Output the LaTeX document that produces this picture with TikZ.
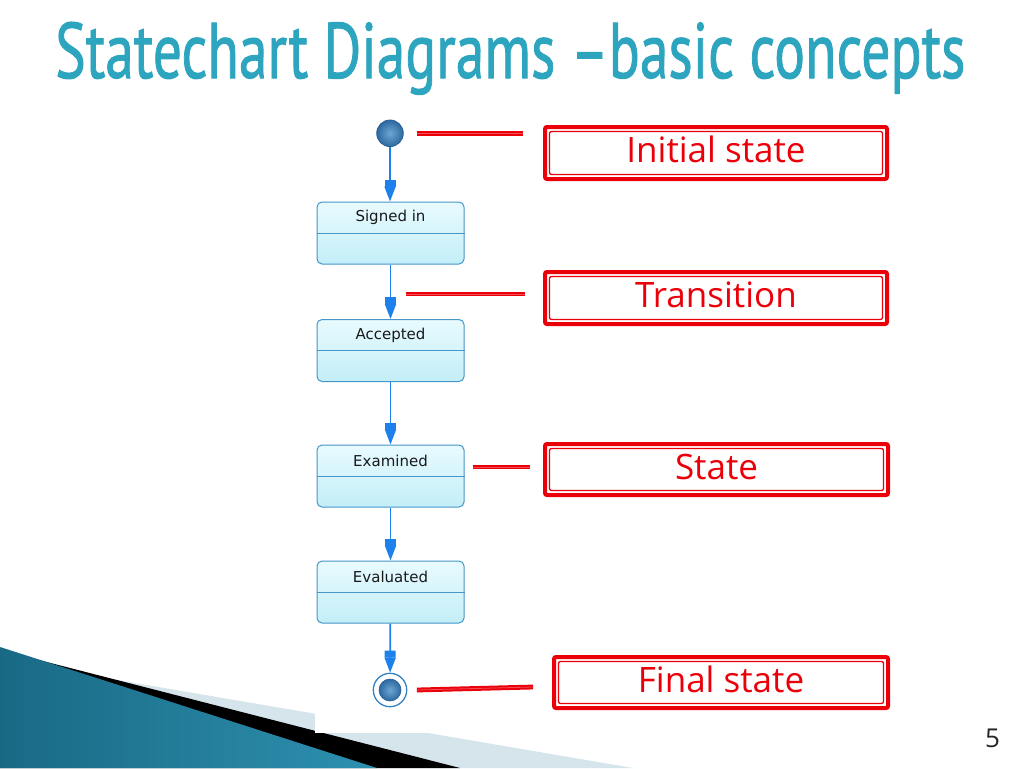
\documentclass[tikz,border=0pt]{standalone}
\usepackage{fontspec}
\setmainfont{Open Sans}
\newfontfamily\titlefont[FakeBold=1.3]{PT Sans}
\newfontfamily\lblfont{Open Sans}
\newfontfamily\statefont{DejaVu Sans}
\usetikzlibrary{arrows.meta,calc}
\definecolor{lblred}{RGB}{235,0,10}
\definecolor{arrowblue}{RGB}{30,128,235}
\definecolor{stateborder}{RGB}{70,150,200}
\definecolor{statetop}{RGB}{232,251,254}
\definecolor{statebot}{RGB}{195,238,248}
\definecolor{ballin}{RGB}{110,165,210}
\definecolor{ballout}{RGB}{45,105,160}
\definecolor{ballline}{RGB}{40,95,150}
\definecolor{ringblue}{RGB}{50,130,195}
\definecolor{decogray}{RGB}{214,228,236}
\definecolor{tealA}{RGB}{25,105,133}
\definecolor{tealB}{RGB}{90,185,215}
\definecolor{tealC}{RGB}{45,145,175}
\definecolor{titlemain}{RGB}{45,165,190}
\newcommand\mytitletext{\resizebox{910pt}{56pt}{\titlefont Statechart Diagrams –basic concepts}}
\begin{document}
\begin{tikzpicture}[x=1pt,y=-1pt,
  statebox/.style={draw=stateborder, line width=1pt, rounded corners=5pt,
    top color=statetop, bottom color=statebot,
    minimum width=147pt, minimum height=62pt, inner sep=0pt},
  stext/.style={anchor=center, yshift=-16pt, inner sep=0pt,
    font=\statefont\fontsize{15}{18}\selectfont, text=black!90},
  stateline/.style={draw=stateborder, line width=1pt},
  trans/.style={draw=arrowblue, line width=1.8pt,
    -{Rectangle[length=7pt,width=11pt,sep=0pt]Triangle[length=15pt,width=11pt,sep=0pt]}},
  redconn/.style={draw=lblred, line width=2pt, double=lblred!70!white, double distance=0.8pt},
  lbl/.style={draw=lblred, line width=4pt, rounded corners=2pt, fill=white,
    inner sep=0pt, text=lblred, font=\lblfont\fontsize{35}{40}\selectfont,
    text height=25pt, text depth=6pt,
    path picture={\draw[lblred, line width=1.3pt]
      ([shift={(4.5pt,-4.5pt)}]path picture bounding box.north west) rectangle
      ([shift={(-4.5pt,4.5pt)}]path picture bounding box.south east);}},
  ttl/.style={anchor=base west, inner sep=0pt}
]
\useasboundingbox (0,0) rectangle (1024,768);
\fill[white] (0,0) rectangle (1024,768);

% bottom-left decoration
\fill[decogray] (0,660) -- (633,768) -- (0,768) -- cycle;
\fill[black] (0,650) -- (460,768) -- (0,768) -- cycle;
\shade[left color=tealA, middle color=tealB, right color=tealC] (0,647) -- (377,768) -- (0,768) -- cycle;
\fill[white] (315,110) rectangle (540,733);

% title
\node[ttl, text=titlemain] (title) at (55,78) {\mytitletext};

% initial state
\node[circle, draw=ballline, line width=0.8pt, inner color=ballin, outer color=ballout,
  minimum size=26.6pt, inner sep=0pt] (init) at (390,133.3) {};

% states
\node[statebox, label={[stext]north:Signed in}] (s1) at (390.5,233) {};
\node[statebox, label={[stext]north:Accepted}] (s2) at (390.5,350.5) {};
\node[statebox, label={[stext]north:Examined}] (s3) at (390.5,476) {};
\node[statebox, label={[stext]north:Evaluated}] (s4) at (390.5,592) {};
\foreach \s in {s1,s2,s3,s4}{\draw[stateline] (\s.west) -- (\s.east);}

% final state
\node[circle, draw=ringblue, line width=1.3pt, fill=white,
  minimum size=33.4pt, inner sep=0pt] (fin) at (390,690) {};
\node[circle, draw=ballline, line width=0.6pt, inner color=ballin, outer color=ballout,
  minimum size=22pt, inner sep=0pt] (finin) at (390,690) {};

% transitions
\draw[trans] (init) -- (init |- s1.north);
\draw[trans] (s1) -- (s2);
\draw[trans] (s2) -- (s3);
\draw[trans] (s3) -- (s4);
\draw[trans] (s4) -- (fin);

% red labels
\node[lbl, minimum width=342pt, minimum height=52pt] (linit) at (716,153) {Initial state};
\node[lbl, minimum width=342pt, minimum height=52pt] (ltrans) at (716,298) {Transition};
\node[lbl, minimum width=343pt, minimum height=51pt] (lstate) at (716.5,469.5) {State};
\node[lbl, minimum width=334pt, minimum height=51pt] (lfinal) at (721,682.5) {Final state};

% red connectors
\coordinate (tmid) at ($(s1.south)!0.54!(s2.north)$);
\coordinate (c1a) at ([xshift=13pt]init.east);
\coordinate (c2a) at ([xshift=15pt]tmid);
\coordinate (c3a) at ([xshift=8pt,yshift=9pt]s3.east);
\coordinate (c4a) at ([xshift=9.5pt]fin.east);
\draw[redconn, shorten >=20pt] (c1a) -- (linit.west |- c1a);
\draw[redconn, shorten >=18pt] (c2a) -- (ltrans.west |- c2a);
\draw[redconn, shorten >=13pt] (c3a) -- (lstate.west |- c3a);
\draw[redconn] (c4a) -- ([xshift=-19pt,yshift=3pt]lfinal.west |- c4a);

% page number
\node[anchor=base, inner sep=0pt, text=black!85, font=\lblfont\fontsize{26}{30}\selectfont] (pnum) at (992.5,747) {5};
\end{tikzpicture}
\end{document}
